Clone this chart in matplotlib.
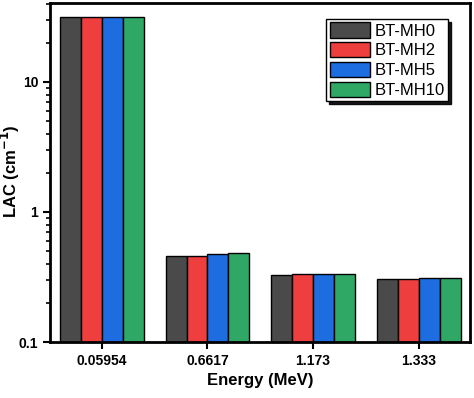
import matplotlib
matplotlib.use("Agg")
import matplotlib.pyplot as plt
import numpy as np
from matplotlib.ticker import LogLocator, NullFormatter, FixedFormatter, FixedLocator

plt.rcParams['font.family'] = ['Liberation Sans', 'DejaVu Sans']

energies = ["0.05954", "0.6617", "1.173", "1.333"]
samples = ["BT-MH0", "BT-MH2", "BT-MH5", "BT-MH10"]
mh0 = [31.5, 0.459, 0.327, 0.304]
mh2 = [31.5, 0.460, 0.335, 0.304]
mh5 = [31.5, 0.473, 0.335, 0.311]
mh10 = [31.5, 0.486, 0.335, 0.311]
colors = ["#4a4a4a", "#ee3e3e", "#1d6ce0", "#2fa866"]

fig = plt.figure(figsize=(4.74, 3.98), dpi=100)
ax = fig.add_axes([50/474, 56/398, 420/474, 339/398])

x = np.arange(len(energies))
w = 0.198
for i, (vals, lab) in enumerate(zip([mh0, mh2, mh5, mh10], samples)):
    ax.bar(x + (i - 1.5) * w, vals, w, color=colors[i], edgecolor="black",
           linewidth=1.0, label=lab, zorder=2)

ax.set_yscale("log")
ax.set_ylim(0.1, 40.5)
ax.set_xlim(-0.49, 3.485)
ax.yaxis.set_major_locator(FixedLocator([0.1, 1, 10]))
ax.yaxis.set_major_formatter(FixedFormatter(["0.1", "1", "10"]))
ax.yaxis.set_minor_locator(LogLocator(base=10, subs=np.arange(2, 10)))
ax.yaxis.set_minor_formatter(NullFormatter())
ax.set_xticks(x)
ax.set_xticklabels(energies)

for s in ax.spines.values():
    s.set_linewidth(2)
ax.tick_params(axis="both", which="major", direction="out", width=1.5, length=5,
               labelsize=10)
ax.tick_params(axis="y", which="minor", direction="out", width=1.2, length=3)
for t in ax.get_xticklabels() + ax.get_yticklabels():
    t.set_fontweight("bold")

ax.set_xlabel("Energy (MeV)", fontsize=12, fontweight="bold")
ax.set_ylabel("LAC (cm$^{\\mathbf{-1}}$)", fontsize=12, fontweight="bold")
ax.yaxis.set_label_coords(-0.066, 0.505)

leg = ax.legend(loc="upper right", bbox_to_anchor=(0.948, 0.953), fontsize=12,
                frameon=True, fancybox=False,
                shadow={"color": "black", "alpha": 0.9}, handlelength=2.4,
                handleheight=1.05, handletextpad=0.3, borderpad=0.2,
                labelspacing=0.2, borderaxespad=0)
leg.get_frame().set_edgecolor("black")
leg.get_frame().set_linewidth(1.0)

fig.savefig("out.png", dpi=100)
